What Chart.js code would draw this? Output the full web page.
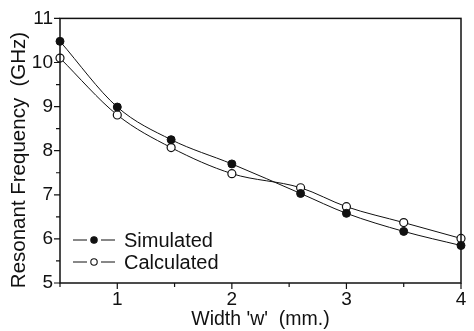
<!DOCTYPE html>
<html>
<head>
<meta charset="utf-8">
<script src="https://cdn.jsdelivr.net/npm/chart.js@4"></script>
<style>
  html, body { margin: 0; padding: 0; background: #fff; }
  #wrap { width: 474px; height: 331px; }
</style>
</head>
<body>
<div id="wrap"><canvas id="freqChart"></canvas></div>
<script>
const widths = [0.5, 1, 1.47, 2, 2.6, 3, 3.5, 4]
const simulated = [10.48, 8.99, 8.25, 7.70, 7.03, 6.58, 6.17, 5.85]
const calculated = [10.10, 8.81, 8.07, 7.48, 7.16, 6.73, 6.37, 6.01]
const seriesNames = ['Simulated', 'Calculated']
const yTitle = 'Resonant Frequency  (GHz)'

const FONT = '"Liberation Sans", Arial, sans-serif'
const INK = '#111'

const toPoints = ys => widths.map((x, i) => ({ x: x, y: ys[i] }))

// frame, outward ticks (major + minor), y title and the in-plot legend
const framePlugin = {
  id: 'frame',
  afterDraw (chart) {
    const ctx = chart.ctx
    const area = chart.chartArea
    const xs = chart.scales.x
    const ys = chart.scales.y
    ctx.save()
    ctx.strokeStyle = INK
    ctx.lineWidth = 1.5
    ctx.strokeRect(area.left, area.top, area.right - area.left, area.bottom - area.top)

    ctx.lineWidth = 1.2
    ctx.beginPath()
    for (let v = 0.5; v <= 4.001; v += 0.5) {
      const px = xs.getPixelForValue(v)
      const len = Number.isInteger(v) ? 6 : 4
      ctx.moveTo(px, area.bottom)
      ctx.lineTo(px, area.bottom + len)
    }
    for (let v = 5; v <= 11.001; v += 0.5) {
      const py = ys.getPixelForValue(v)
      const len = Number.isInteger(v) ? 6 : 4
      ctx.moveTo(area.left, py)
      ctx.lineTo(area.left - len, py)
    }
    ctx.stroke()

    // y axis title, sits a bit below the plot's centre in the original
    ctx.save()
    ctx.translate(25, 160)
    ctx.rotate(-Math.PI / 2)
    ctx.font = '20.5px ' + FONT
    ctx.textAlign = 'center'
    ctx.textBaseline = 'alphabetic'
    ctx.fillStyle = INK
    ctx.fillText(yTitle, 0, 0)
    ctx.restore()

    // legend
    ctx.font = '20px ' + FONT
    ctx.textBaseline = 'middle'
    const rows = [240, 262]
    rows.forEach((ry, i) => {
      const mx = 94
      ctx.strokeStyle = INK
      ctx.beginPath()
      ctx.lineWidth = 1
      ctx.moveTo(73, ry); ctx.lineTo(87, ry)
      ctx.moveTo(101, ry); ctx.lineTo(115, ry)
      ctx.stroke()
      ctx.beginPath()
      ctx.arc(mx, ry, 3.2, 0, Math.PI * 2)
      ctx.fillStyle = i === 0 ? INK : '#fff'
      ctx.fill()
      ctx.lineWidth = 1.1
      ctx.stroke()
      ctx.fillStyle = INK
      ctx.fillText(seriesNames[i], 124, ry + 1)
    })
    ctx.restore()
  }
}

new Chart(document.getElementById('freqChart').getContext('2d'), {
  type: 'scatter',
  data: {
    datasets: [{
      label: seriesNames[0],
      data: toPoints(simulated),
      showLine: true,
      borderColor: INK,
      borderWidth: 1,
      cubicInterpolationMode: 'monotone',
      pointRadius: 4,
      pointBackgroundColor: INK,
      pointBorderColor: INK,
      pointBorderWidth: 1,
      clip: false
    }, {
      label: seriesNames[1],
      data: toPoints(calculated),
      showLine: true,
      borderColor: INK,
      borderWidth: 1,
      cubicInterpolationMode: 'monotone',
      pointRadius: 4,
      pointBackgroundColor: '#fff',
      pointBorderColor: INK,
      pointBorderWidth: 1.2,
      clip: false
    }]
  },
  options: {
    animation: false,
    responsive: true,
    maintainAspectRatio: false,
    layout: {
      padding: { top: 17, right: 13, left: 0, bottom: 0 }
    },
    plugins: {
      legend: { display: false },
      tooltip: { enabled: false }
    },
    scales: {
      x: {
        type: 'linear',
        min: 0.5,
        max: 4,
        grid: { display: false, drawTicks: false },
        border: { display: false },
        ticks: {
          stepSize: 0.5,
          padding: 5,
          color: INK,
          font: { family: FONT, size: 19 },
          callback: v => Number.isInteger(v) ? v : ''
        },
        title: {
          display: true,
          text: "Width 'w'  (mm.)",
          color: INK,
          font: { family: FONT, size: 19.5 },
          padding: { top: 0, bottom: 0 }
        },
        afterFit (scale) { scale.height = 48 }
      },
      y: {
        min: 5,
        max: 11,
        grid: { display: false, drawTicks: false },
        border: { display: false },
        ticks: {
          stepSize: 1,
          padding: 7,
          color: INK,
          font: { family: FONT, size: 19 },
          callback: v => v
        },
        afterFit (scale) { scale.width = 60 }
      }
    }
  },
  plugins: [framePlugin]
})
</script>
</body>
</html>
